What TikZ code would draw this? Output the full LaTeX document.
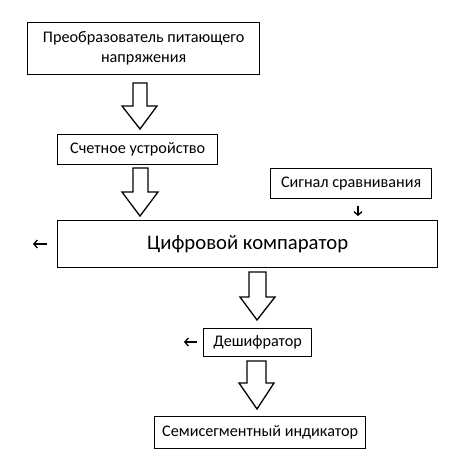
\documentclass[tikz,border=0pt]{standalone}
\usepackage{fontspec}
\setmainfont{Carlito}
\usetikzlibrary{arrows.meta}
\begin{document}
\begin{tikzpicture}[x=1pt,y=-1pt,
  box/.style={draw, line width=1.3pt, inner sep=0pt, anchor=north west, align=center},
  barrow/.style={draw, line width=1.3pt, fill=white, line join=miter},
  small/.style={line width=1.3pt, -{Straight Barb[length=3.5pt,width=8pt]}}]
\useasboundingbox (0,0) rectangle (474,469);
\fill[white] (0,0) rectangle (474,469);
% boxes
\node[box, minimum width=232pt, minimum height=52pt, font=\fontsize{16.2}{20}\selectfont] (b1) at (27,22) {Преобразователь питающего\\напряжения};
\node[box, minimum width=160pt, minimum height=30pt, font=\fontsize{16.2}{20}\selectfont] (b2) at (57,134) {Счетное устройство};
\node[box, minimum width=161pt, minimum height=30pt, font=\fontsize{16.2}{20}\selectfont] (b3) at (270,168) {Сигнал сравнивания};
\node[box, minimum width=380pt, minimum height=47pt, font=\fontsize{20.7}{24}\selectfont] (b4) at (57,220) {Цифровой компаратор};
\node[box, minimum width=108pt, minimum height=28pt, font=\fontsize{16.2}{20}\selectfont] (b5) at (203,328) {Дешифратор};
\node[box, minimum width=211pt, minimum height=32pt, font=\fontsize{16.2}{20}\selectfont] (b6) at (154,416) {Семисегментный индикатор};
% block arrows
\draw[barrow] (133,83) -- (147,83) -- (147,106) -- (157,106) -- (140,129) -- (122,106) -- (133,106) -- cycle;
\draw[barrow] (133,168) -- (148,168) -- (148,192) -- (158,192) -- (140,216) -- (122,192) -- (133,192) -- cycle;
\draw[barrow] (249,272) -- (266,272) -- (266,297) -- (275,297) -- (257,320) -- (240,297) -- (249,297) -- cycle;
\draw[barrow] (247,361) -- (266,361) -- (266,383) -- (274,383) -- (257,409) -- (239,383) -- (247,383) -- cycle;
% small arrows
\coordinate (s1) at (358,206);
\coordinate (s2) at (358,216);
\draw[small] (s1) -- (s2);
\coordinate (l1a) at (47,244);
\coordinate (l1b) at (33,244);
\draw[small] (l1a) -- (l1b);
\coordinate (l2a) at (197,342);
\coordinate (l2b) at (184,342);
\draw[small] (l2a) -- (l2b);
\end{tikzpicture}
\end{document}
